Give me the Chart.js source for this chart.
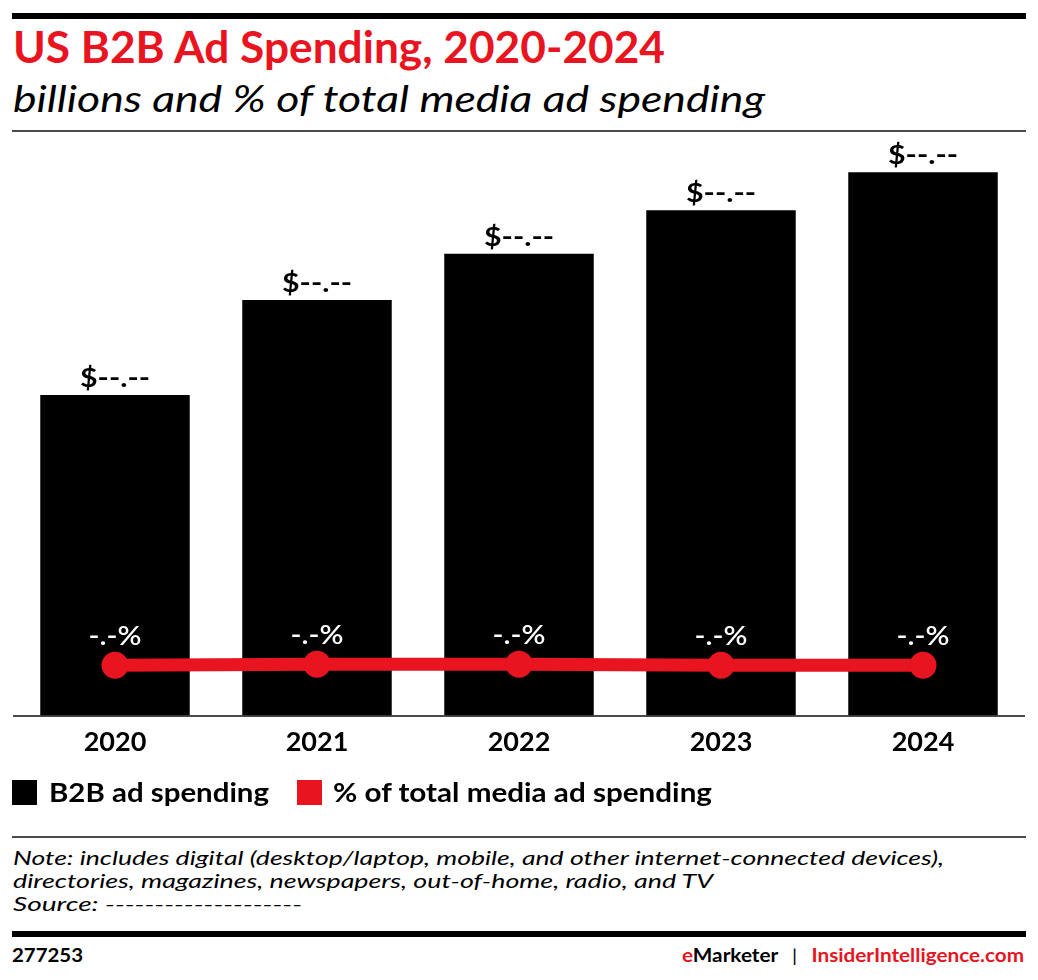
<!DOCTYPE html>
<html><head><meta charset="utf-8">
<script src="https://cdn.jsdelivr.net/npm/chart.js@4.4.1/dist/chart.umd.min.js"></script>
<style>
html,body{margin:0;padding:0;background:#fff;}
body{width:1038px;height:980px;position:relative;overflow:hidden;font-family:Lato,"Open Sans",sans-serif;}
.abs{position:absolute;white-space:nowrap;line-height:1;transform-origin:0 0;}
.rule{position:absolute;}
</style></head><body>
<div class="rule" style="left:12px;top:13px;width:1014px;height:6px;background:#000"></div>
<div class="abs fit" data-w="652" style="left:13px;top:25px;font-weight:700;font-size:43px;color:#e8141f">US B2B Ad Spending, 2020-2024</div>
<div class="abs fit" data-w="752" style="left:13px;top:79px;font-style:italic;font-size:37px;color:#000">billions and % of total media ad spending</div>
<div class="rule" style="left:12px;top:130px;width:1014px;height:2px;background:#4a4a4a"></div>

<canvas id="c" width="1038" height="640" style="position:absolute;left:0;top:140px"></canvas>

<div class="rule" style="left:12px;top:780px;width:25px;height:25px;background:#000"></div>
<div class="abs fit" data-w="220" style="left:49px;top:778px;font-weight:700;font-size:27px;color:#000">B2B ad spending</div>
<div class="rule" style="left:297px;top:780px;width:25px;height:25px;background:#e8141f"></div>
<div class="abs fit" data-w="379" style="left:333px;top:778px;font-weight:700;font-size:27px;color:#000">% of total media ad spending</div>

<div class="rule" style="left:12px;top:836px;width:1014px;height:2px;background:#4a4a4a"></div>
<div class="abs fit" data-w="931" style="left:13px;top:847px;font-style:italic;font-weight:400;font-size:20px;color:#000">Note: includes digital (desktop/laptop, mobile, and other internet-connected devices),</div>
<div class="abs fit" data-w="700" style="left:13px;top:870px;font-style:italic;font-weight:400;font-size:20px;color:#000">directories, magazines, newspapers, out-of-home, radio, and TV</div>
<div class="abs fit" data-w="289" style="left:13px;top:893px;font-style:italic;font-weight:400;font-size:20px;color:#000">Source: --------------------</div>
<div class="rule" style="left:12px;top:931px;width:1014px;height:6px;background:#000"></div>
<div class="abs fit" data-w="71" style="left:12px;top:946px;font-weight:700;font-size:18px;color:#000">277253</div>
<div class="abs" id="brand" style="left:682px;top:946px;font-size:18px;font-weight:700;color:#000"><span style="color:#e8141f">e</span>Marketer <span style="margin:0 8px;font-weight:400">|</span> <span style="color:#e8141f">InsiderIntelligence.com</span></div>

<script>
const years = ["2020", "2021", "2022", "2023", "2024"];
const b2bSpending = [11.8, 15.3, 17.0, 18.6, 20.0];
const shareOfTotal = [4.5, 4.6, 4.6, 4.5, 4.5];
const spendingLabels = ["$--.--", "$--.--", "$--.--", "$--.--", "$--.--"];
const shareLabels = ["-.-%", "-.-%", "-.-%", "-.-%", "-.-%"];

const RED = "#e8141f";

document.querySelectorAll(".fit").forEach(el => {
  const w = el.getBoundingClientRect().width;
  const target = +el.dataset.w;
  el.style.transform = "scaleX(" + (target / w) + ")";
});
(function(){
  const el = document.getElementById("brand");
  const w = el.getBoundingClientRect().width;
  el.style.transform = "scaleX(" + (342 / w) + ")";
})();

function drawScaled(ctx, text, x, y, targetW) {
  const w = ctx.measureText(text).width;
  const s = targetW / w;
  ctx.save();
  ctx.translate(x, y);
  ctx.scale(s, 1);
  ctx.fillText(text, 0, 0);
  ctx.restore();
}

const valueLabels = {
  id: "valueLabels",
  afterDatasetsDraw(chart) {
    const ctx = chart.ctx;
    ctx.save();
    ctx.textAlign = "center";
    ctx.textBaseline = "alphabetic";
    ctx.fillStyle = "#000";
    ctx.font = "700 26px Lato";
    chart.getDatasetMeta(0).data.forEach((el, i) => drawScaled(ctx, spendingLabels[i], el.x, el.y - 8, 70));
    ctx.fillStyle = "#fff";
    ctx.font = "600 27px Lato";
    chart.getDatasetMeta(1).data.forEach((el, i) => drawScaled(ctx, shareLabels[i], el.x, el.y - 20, 53));
    ctx.restore();
  }
};

new Chart(document.getElementById("c"), {
  data: {
    labels: years,
    datasets: [
      { type: "bar", label: "B2B ad spending", data: b2bSpending, backgroundColor: "#000",
        barPercentage: 0.74, categoryPercentage: 1, yAxisID: "y", order: 1 },
      { type: "line", label: "% of total media ad spending", data: shareOfTotal,
        borderColor: RED, backgroundColor: RED, borderWidth: 13, pointRadius: 13.5,
        pointBorderWidth: 0, pointBackgroundColor: RED, yAxisID: "y1", order: 0, tension: 0 }
    ]
  },
  options: {
    responsive: false,
    animation: false,
    layout: { autoPadding: false, padding: { left: 14, right: 14, top: 5, bottom: 12 } },
    plugins: { legend: { display: false }, tooltip: { enabled: false } },
    scales: {
      x: {
        grid: { display: false, drawTicks: false },
        border: { display: true, color: "#4a4a4a", width: 2 },
        ticks: { color: "#000", font: { family: "Lato", size: 27, weight: "700" }, padding: 10 }
      },
      y: { display: false, min: 0, max: 21 },
      y1: { display: false, min: 0, max: 51 }
    }
  },
  plugins: [valueLabels]
});
</script>
</body></html>
